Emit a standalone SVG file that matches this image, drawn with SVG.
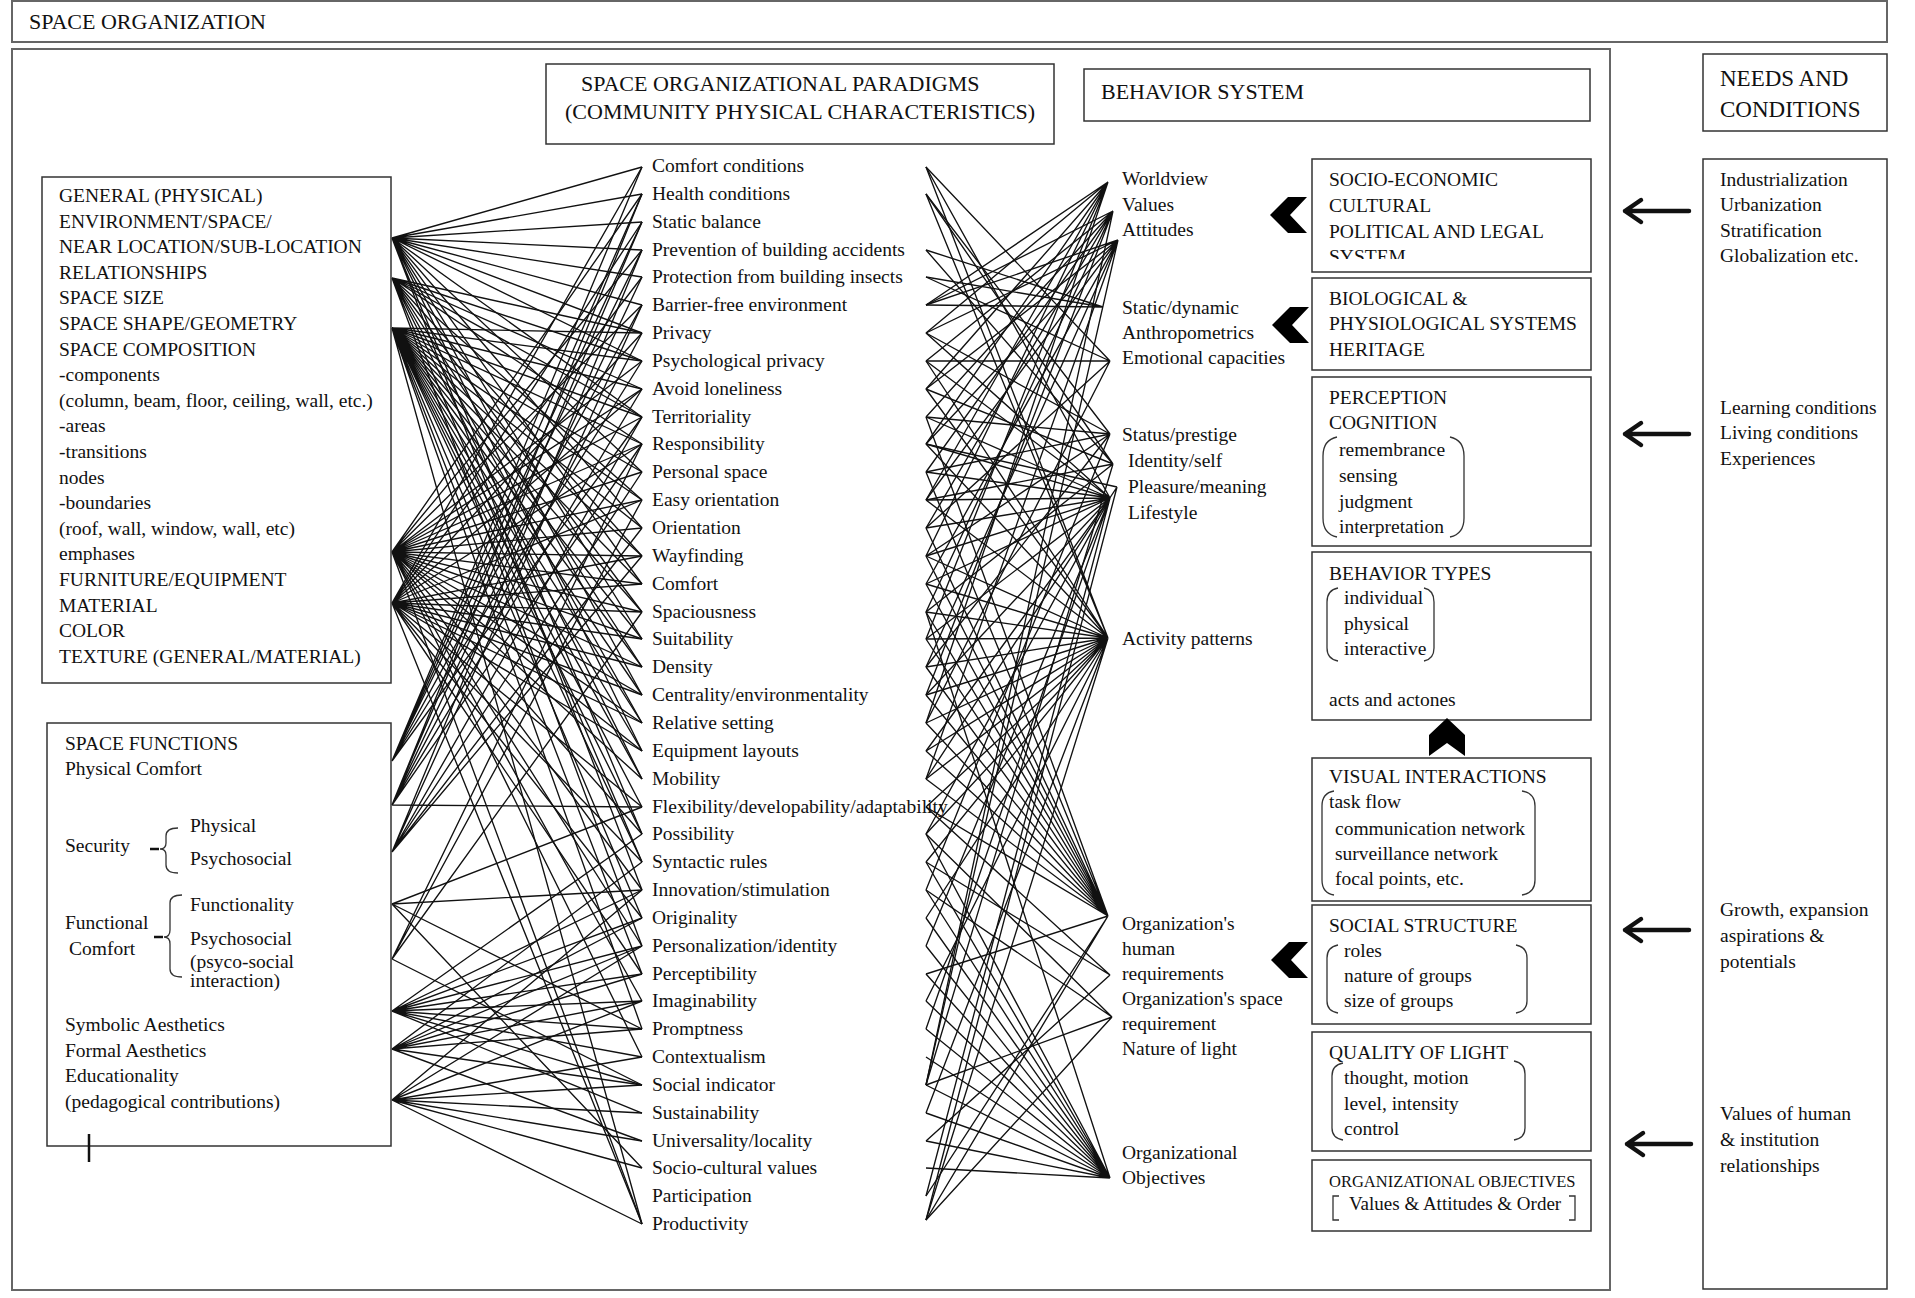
<svg xmlns="http://www.w3.org/2000/svg" xmlns:xlink="http://www.w3.org/1999/xlink" width="1915" height="1298" viewBox="0 0 1915 1298">
<style>
.t{font-family:'Liberation Serif','Times New Roman',serif;font-size:19.5px;fill:#111}
.h{font-size:22px}
.nh{font-size:23px}
.sm{font-size:16.5px}
.box{fill:none;stroke:#333;stroke-width:1.5}
.frame{fill:none;stroke:#666;stroke-width:2}
.cn{fill:none;stroke:#111;stroke-width:1.35}
.br{fill:none;stroke:#333;stroke-width:1.3}
.arr{fill:none;stroke:#111;stroke-width:4.5;stroke-linecap:round;stroke-linejoin:round}
.chev{fill:#000}
</style>
<defs>
<path id="larr" class="arr" d="M0 0 H64 M16 -11 L0 0 L16 11"/>
<polygon id="chevL" class="chev" points="18,-18 37,-18 20,0 37,18 18,18 0,0"/>
<clipPath id="clipSys"><rect x="1312" y="159" width="279" height="100"/></clipPath>
</defs>
<rect width="1915" height="1298" fill="#fff"/>

<g id="title">
<rect class="frame" x="12" y="1" width="1875" height="41"/>
<text class="t h" x="29" y="29">SPACE ORGANIZATION</text>
</g>
<rect id="main-frame" class="frame" x="12" y="49" width="1598" height="1241"/>

<g id="paradigms-header">
<rect class="box" x="546" y="64" width="508" height="80"/>
<text class="t h" x="581" y="91">SPACE ORGANIZATIONAL PARADIGMS</text>
<text class="t h" x="565" y="119">(COMMUNITY PHYSICAL CHARACTERISTICS)</text>
</g>
<g id="behavior-header">
<rect class="box" x="1084" y="69" width="506" height="52"/>
<text class="t h" x="1101" y="99">BEHAVIOR SYSTEM</text>
</g>

<g id="physical-box">
<rect class="box" x="42" y="177" width="349" height="506"/>
<text class="t" x="59" y="202">GENERAL (PHYSICAL)</text>
<text class="t" x="59" y="228">ENVIRONMENT/SPACE/</text>
<text class="t" x="59" y="253">NEAR LOCATION/SUB-LOCATION</text>
<text class="t" x="59" y="279">RELATIONSHIPS</text>
<text class="t" x="59" y="304">SPACE SIZE</text>
<text class="t" x="59" y="330">SPACE SHAPE/GEOMETRY</text>
<text class="t" x="59" y="356">SPACE COMPOSITION</text>
<text class="t" x="59" y="381">-components</text>
<text class="t" x="59" y="407">(column, beam, floor, ceiling, wall, etc.)</text>
<text class="t" x="59" y="432">-areas</text>
<text class="t" x="59" y="458">-transitions</text>
<text class="t" x="59" y="484">nodes</text>
<text class="t" x="59" y="509">-boundaries</text>
<text class="t" x="59" y="535">(roof, wall, window, wall, etc)</text>
<text class="t" x="59" y="560">emphases</text>
<text class="t" x="59" y="586">FURNITURE/EQUIPMENT</text>
<text class="t" x="59" y="612">MATERIAL</text>
<text class="t" x="59" y="637">COLOR</text>
<text class="t" x="59" y="663">TEXTURE (GENERAL/MATERIAL)</text>
</g>

<g id="functions-box">
<rect class="box" x="47" y="723" width="344" height="423"/>
<text class="t" x="65" y="750">SPACE FUNCTIONS</text>
<text class="t" x="65" y="775">Physical Comfort</text>
<text class="t" x="65" y="852">Security</text>
<text class="t" x="190" y="832">Physical</text>
<text class="t" x="190" y="865">Psychosocial</text>
<path class="br" d="M178 828 Q166 828 166 836 L166 843 Q166 849 160 849 Q166 849 166 855 L166 865 Q166 873 178 873"/>
<line x1="150" y1="849" x2="159" y2="849" stroke="#111" stroke-width="2.5"/>
<text class="t" x="65" y="929">Functional</text>
<text class="t" x="69" y="955">Comfort</text>
<text class="t" x="190" y="911">Functionality</text>
<text class="t" x="190" y="945">Psychosocial</text>
<text class="t" x="190" y="968">(psyco-social</text>
<text class="t" x="190" y="987">interaction)</text>
<path class="br" d="M182 895 Q170 895 170 903 L170 930 Q170 937 164 937 Q170 937 170 944 L170 969 Q170 977 182 977"/>
<line x1="154" y1="937" x2="163" y2="937" stroke="#111" stroke-width="2.5"/>
<text class="t" x="65" y="1031">Symbolic Aesthetics</text>
<text class="t" x="65" y="1057">Formal Aesthetics</text>
<text class="t" x="65" y="1082">Educationality</text>
<text class="t" x="65" y="1108">(pedagogical contributions)</text>
<line x1="89" y1="1134" x2="89" y2="1162" stroke="#111" stroke-width="2.5"/>
</g>

<g id="paradigm-list">
<text class="t" x="652" y="172">Comfort conditions</text>
<text class="t" x="652" y="200">Health conditions</text>
<text class="t" x="652" y="228">Static balance</text>
<text class="t" x="652" y="256">Prevention of building accidents</text>
<text class="t" x="652" y="283">Protection from building insects</text>
<text class="t" x="652" y="311">Barrier-free environment</text>
<text class="t" x="652" y="339">Privacy</text>
<text class="t" x="652" y="367">Psychological privacy</text>
<text class="t" x="652" y="395">Avoid loneliness</text>
<text class="t" x="652" y="423">Territoriality</text>
<text class="t" x="652" y="450">Responsibility</text>
<text class="t" x="652" y="478">Personal space</text>
<text class="t" x="652" y="506">Easy orientation</text>
<text class="t" x="652" y="534">Orientation</text>
<text class="t" x="652" y="562">Wayfinding</text>
<text class="t" x="652" y="590">Comfort</text>
<text class="t" x="652" y="618">Spaciousness</text>
<text class="t" x="652" y="645">Suitability</text>
<text class="t" x="652" y="673">Density</text>
<text class="t" x="652" y="701">Centrality/environmentality</text>
<text class="t" x="652" y="729">Relative setting</text>
<text class="t" x="652" y="757">Equipment layouts</text>
<text class="t" x="652" y="785">Mobility</text>
<text class="t" x="652" y="813">Flexibility/developability/adaptability</text>
<text class="t" x="652" y="840">Possibility</text>
<text class="t" x="652" y="868">Syntactic rules</text>
<text class="t" x="652" y="896">Innovation/stimulation</text>
<text class="t" x="652" y="924">Originality</text>
<text class="t" x="652" y="952">Personalization/identity</text>
<text class="t" x="652" y="980">Perceptibility</text>
<text class="t" x="652" y="1007">Imaginability</text>
<text class="t" x="652" y="1035">Promptness</text>
<text class="t" x="652" y="1063">Contextualism</text>
<text class="t" x="652" y="1091">Social indicator</text>
<text class="t" x="652" y="1119">Sustainability</text>
<text class="t" x="652" y="1147">Universality/locality</text>
<text class="t" x="652" y="1174">Socio-cultural values</text>
<text class="t" x="652" y="1202">Participation</text>
<text class="t" x="652" y="1230">Productivity</text>
</g>

<g id="behavior-list">
<text class="t" x="1122" y="185">Worldview</text>
<text class="t" x="1122" y="211">Values</text>
<text class="t" x="1122" y="236">Attitudes</text>
<text class="t" x="1122" y="314">Static/dynamic</text>
<text class="t" x="1122" y="339">Anthropometrics</text>
<text class="t" x="1122" y="364">Emotional capacities</text>
<text class="t" x="1122" y="441">Status/prestige</text>
<text class="t" x="1128" y="467">Identity/self</text>
<text class="t" x="1128" y="493">Pleasure/meaning</text>
<text class="t" x="1128" y="519">Lifestyle</text>
<text class="t" x="1122" y="645">Activity patterns</text>
<text class="t" x="1122" y="930">Organization's</text>
<text class="t" x="1122" y="955">human</text>
<text class="t" x="1122" y="980">requirements</text>
<text class="t" x="1122" y="1005">Organization's space</text>
<text class="t" x="1122" y="1030">requirement</text>
<text class="t" x="1122" y="1055">Nature of light</text>
<text class="t" x="1122" y="1159">Organizational</text>
<text class="t" x="1122" y="1184">Objectives</text>
</g>

<g id="socio-box">
<rect class="box" x="1312" y="159" width="279" height="113"/>
<text class="t" x="1329" y="186">SOCIO-ECONOMIC</text>
<text class="t" x="1329" y="212">CULTURAL</text>
<text class="t" x="1329" y="238">POLITICAL AND LEGAL</text>
<text class="t" x="1329" y="263" clip-path="url(#clipSys)">SYSTEM</text>
</g>
<g id="bio-box">
<rect class="box" x="1312" y="278" width="279" height="92"/>
<text class="t" x="1329" y="305">BIOLOGICAL &amp;</text>
<text class="t" x="1329" y="330">PHYSIOLOGICAL SYSTEMS</text>
<text class="t" x="1329" y="356">HERITAGE</text>
</g>
<g id="perception-box">
<rect class="box" x="1312" y="377" width="279" height="169"/>
<text class="t" x="1329" y="404">PERCEPTION</text>
<text class="t" x="1329" y="429">COGNITION</text>
<text class="t" x="1339" y="456">remembrance</text>
<text class="t" x="1339" y="482">sensing</text>
<text class="t" x="1339" y="508">judgment</text>
<text class="t" x="1339" y="533">interpretation</text>
<path class="br" d="M1337 437 Q1323 440 1323 456 L1323 518 Q1323 534 1337 537"/>
<path class="br" d="M1450 437 Q1464 440 1464 456 L1464 518 Q1464 534 1450 537"/>
</g>
<g id="behavior-types-box">
<rect class="box" x="1312" y="552" width="279" height="168"/>
<text class="t" x="1329" y="580">BEHAVIOR TYPES</text>
<text class="t" x="1344" y="604">individual</text>
<text class="t" x="1344" y="630">physical</text>
<text class="t" x="1344" y="655">interactive</text>
<text class="t" x="1329" y="706">acts and actones</text>
<path class="br" d="M1338 588 Q1327 590 1327 602 L1327 648 Q1327 659 1338 661"/>
<path class="br" d="M1424 588 Q1434 590 1434 602 L1434 648 Q1434 659 1424 661"/>
</g>
<polygon id="up-chevron" class="chev" points="1429,756 1429,735 1447,718 1465,735 1465,756 1447,743"/>
<g id="visual-box">
<rect class="box" x="1312" y="758" width="279" height="143"/>
<text class="t" x="1329" y="783">VISUAL INTERACTIONS</text>
<text class="t" x="1329" y="808">task flow</text>
<text class="t" x="1335" y="835">communication network</text>
<text class="t" x="1335" y="860">surveillance network</text>
<text class="t" x="1335" y="885">focal points, etc.</text>
<path class="br" d="M1334 791 Q1322 793 1322 806 L1322 880 Q1322 893 1334 895"/>
<path class="br" d="M1522 791 Q1535 793 1535 806 L1535 880 Q1535 893 1522 895"/>
</g>
<g id="social-box">
<rect class="box" x="1312" y="905" width="279" height="119"/>
<text class="t" x="1329" y="932">SOCIAL STRUCTURE</text>
<text class="t" x="1344" y="957">roles</text>
<text class="t" x="1344" y="982">nature of groups</text>
<text class="t" x="1344" y="1007">size of groups</text>
<path class="br" d="M1338 945 Q1327 947 1327 958 L1327 1001 Q1327 1011 1338 1013"/>
<path class="br" d="M1516 945 Q1527 947 1527 958 L1527 1001 Q1527 1011 1516 1013"/>
</g>
<g id="light-box">
<rect class="box" x="1312" y="1032" width="279" height="119"/>
<text class="t" x="1329" y="1059">QUALITY OF LIGHT</text>
<text class="t" x="1344" y="1084">thought, motion</text>
<text class="t" x="1344" y="1110">level, intensity</text>
<text class="t" x="1344" y="1135">control</text>
<path class="br" d="M1343 1063 Q1332 1065 1332 1076 L1332 1128 Q1332 1138 1343 1140"/>
<path class="br" d="M1514 1061 Q1525 1063 1525 1074 L1525 1128 Q1525 1138 1514 1140"/>
</g>
<g id="objectives-box">
<rect class="box" x="1312" y="1160" width="279" height="71"/>
<text class="t sm" x="1329" y="1187">ORGANIZATIONAL OBJECTIVES</text>
<text class="t" x="1349" y="1210" style="font-size:19px">Values &amp; Attitudes &amp; Order</text>
<path class="br" d="M1339 1196 H1333 V1220 H1339"/>
<path class="br" d="M1569 1196 H1575 V1220 H1569"/>
</g>

<g id="chevrons">
<use xlink:href="#chevL" x="1270" y="215"/>
<use xlink:href="#chevL" x="1272" y="325"/>
<use xlink:href="#chevL" x="1271" y="960"/>
</g>

<g id="needs-header">
<rect class="box" x="1703" y="54" width="184" height="77"/>
<text class="t nh" x="1720" y="86">NEEDS AND</text>
<text class="t nh" x="1720" y="117">CONDITIONS</text>
</g>
<g id="needs-list">
<rect class="box" x="1703" y="159" width="184" height="1130"/>
<text class="t" x="1720" y="186">Industrialization</text>
<text class="t" x="1720" y="211">Urbanization</text>
<text class="t" x="1720" y="237">Stratification</text>
<text class="t" x="1720" y="262">Globalization etc.</text>
<text class="t" x="1720" y="414">Learning conditions</text>
<text class="t" x="1720" y="439">Living conditions</text>
<text class="t" x="1720" y="465">Experiences</text>
<text class="t" x="1720" y="916">Growth, expansion</text>
<text class="t" x="1720" y="942">aspirations &amp;</text>
<text class="t" x="1720" y="968">potentials</text>
<text class="t" x="1720" y="1120">Values of human</text>
<text class="t" x="1720" y="1146">&amp; institution</text>
<text class="t" x="1720" y="1172">relationships</text>
</g>
<g id="needs-arrows">
<use xlink:href="#larr" x="1625" y="211"/>
<use xlink:href="#larr" x="1625" y="434"/>
<use xlink:href="#larr" x="1625" y="930"/>
<use xlink:href="#larr" x="1627" y="1144"/>
</g>

<g id="connectors">
<path class="cn" d="M392 238L642 167M392 238L642 194M392 238L642 222M392 238L642 250M392 238L642 277M392 238L642 305M392 238L642 333M392 238L642 361M392 238L642 417M392 238L642 472M392 238L642 528M392 238L642 584M392 238L642 639M392 238L642 695M392 238L642 751M392 238L642 834M392 238L642 890"/>
<path class="cn" d="M392 278L642 333M392 278L642 361M392 278L642 389M392 278L642 417M392 278L642 444M392 278L642 500M392 278L642 556M392 278L642 612M392 278L642 667M392 278L642 723M392 278L642 779M392 278L642 862M392 278L642 946"/>
<path class="cn" d="M392 328L642 333M392 328L642 361M392 328L642 389M392 328L642 417M392 328L642 444M392 328L642 472M392 328L642 500M392 328L642 528M392 328L642 556M392 328L642 584M392 328L642 612M392 328L642 639M392 328L642 667M392 328L642 695M392 328L642 723M392 328L642 751M392 328L642 779M392 328L642 807M392 328L642 834M392 328L642 862M392 328L642 918M392 328L642 974M392 328L642 1029M392 328L642 1224"/>
<path class="cn" d="M392 552L642 194M392 552L642 250M392 552L642 305M392 552L642 361M392 552L642 389M392 552L642 417M392 552L642 444M392 552L642 472M392 552L642 500M392 552L642 528M392 552L642 556M392 552L642 584M392 552L642 612M392 552L642 639M392 552L642 667M392 552L642 695M392 552L642 723M392 552L642 751M392 552L642 779M392 552L642 834M392 552L642 890M392 552L642 946M392 552L642 1001M392 552L642 1057M392 552L642 1224"/>
<path class="cn" d="M392 603L642 167M392 603L642 222M392 603L642 277M392 603L642 333M392 603L642 389M392 603L642 444M392 603L642 500M392 603L642 556M392 603L642 584M392 603L642 612M392 603L642 639M392 603L642 667M392 603L642 695M392 603L642 723M392 603L642 751M392 603L642 807M392 603L642 862M392 603L642 918M392 603L642 974M392 603L642 1224"/>
<path class="cn" d="M392 761L642 167M392 761L642 194M392 761L642 222M392 761L642 250M392 761L642 305M392 761L642 361M392 761L642 417"/>
<path class="cn" d="M392 805L642 194M392 805L642 222M392 805L642 277M392 805L642 333M392 805L642 389M392 805L642 444M392 805L642 807"/>
<path class="cn" d="M392 852L642 250M392 852L642 305M392 852L642 417M392 852L642 472M392 852L642 528M392 852L642 556"/>
<path class="cn" d="M392 904L642 807M392 904L642 890M392 904L642 1029M392 904L642 1168"/>
<path class="cn" d="M392 959L642 444M392 959L642 500M392 959L642 612M392 959L642 1085"/>
<path class="cn" d="M392 1011L642 834M392 1011L642 890M392 1011L642 918M392 1011L642 946M392 1011L642 974M392 1011L642 1001M392 1011L642 1029M392 1011L642 1057M392 1011L642 1085M392 1011L642 1113"/>
<path class="cn" d="M392 1049L642 862M392 1049L642 918M392 1049L642 946M392 1049L642 974M392 1049L642 1001M392 1049L642 1029M392 1049L642 1085M392 1049L642 1141"/>
<path class="cn" d="M392 1100L642 890M392 1100L642 946M392 1100L642 1001M392 1100L642 1057M392 1100L642 1085M392 1100L642 1113M392 1100L642 1141M392 1100L642 1168M392 1100L642 1224"/>

<path class="cn" d="M1108 182L926 305M1108 182L926 333M1108 182L926 389M1108 182L926 444M1108 182L926 500M1108 182L926 556M1108 182L926 639M1108 182L926 723"/>
<path class="cn" d="M1113 211L926 305M1113 211L926 361M1113 211L926 417M1113 211L926 472M1113 211L926 528M1113 211L926 612M1113 211L926 695M1113 211L926 1085"/>
<path class="cn" d="M1118 240L926 305M1118 240L926 333M1118 240L926 389M1118 240L926 444M1118 240L926 500M1118 240L926 584M1118 240L926 667M1118 240L926 779M1118 240L926 1085"/>
<path class="cn" d="M1103 307L926 250M1103 307L926 277M1103 307L926 305"/>
<path class="cn" d="M1110 361L926 167M1110 361L926 277M1110 361L926 361M1110 361L926 528M1110 361L926 723"/>
<path class="cn" d="M1110 434L926 194M1110 434L926 333M1110 434L926 417M1110 434L926 472M1110 434L926 556M1110 434L926 667M1110 434L926 890"/>
<path class="cn" d="M1113 464L926 194M1113 464L926 250M1113 464L926 389M1113 464L926 500M1113 464L926 612M1113 464L926 1085"/>
<path class="cn" d="M1117 487L926 444M1117 487L926 779M1117 487L926 1220"/>
<path class="cn" d="M1110 498L926 167M1110 498L926 333M1110 498L926 361M1110 498L926 417M1110 498L926 444M1110 498L926 472M1110 498L926 500M1110 498L926 528M1110 498L926 556M1110 498L926 584M1110 498L926 639M1110 498L926 695M1110 498L926 751M1110 498L926 834M1110 498L926 946M1110 498L926 1029M1110 498L926 1196"/>
<path class="cn" d="M1108 638L926 167M1108 638L926 194M1108 638L926 361M1108 638L926 389M1108 638L926 444M1108 638L926 500M1108 638L926 556M1108 638L926 584M1108 638L926 612M1108 638L926 639M1108 638L926 667M1108 638L926 695M1108 638L926 723M1108 638L926 751M1108 638L926 779M1108 638L926 807M1108 638L926 834M1108 638L926 862M1108 638L926 918M1108 638L926 1001M1108 638L926 1113M1108 638L926 1220"/>
<path class="cn" d="M1108 916L926 417M1108 916L926 472M1108 916L926 528M1108 916L926 556M1108 916L926 584M1108 916L926 612M1108 916L926 639M1108 916L926 667M1108 916L926 695M1108 916L926 723M1108 916L926 751M1108 916L926 779M1108 916L926 807M1108 916L926 974M1108 916L926 1196M1108 916L926 1220"/>
<path class="cn" d="M1110 975L926 807M1110 975L926 862M1110 975L926 1141"/>
<path class="cn" d="M1112 1017L926 834M1112 1017L926 890M1112 1017L926 1085M1112 1017L926 1220"/>
<path class="cn" d="M1110 1178L926 612M1110 1178L926 834M1110 1178L926 862M1110 1178L926 890M1110 1178L926 918M1110 1178L926 946M1110 1178L926 974M1110 1178L926 1001M1110 1178L926 1029M1110 1178L926 1057M1110 1178L926 1085M1110 1178L926 1113M1110 1178L926 1141M1110 1178L926 1168"/>
</g>
</svg>
